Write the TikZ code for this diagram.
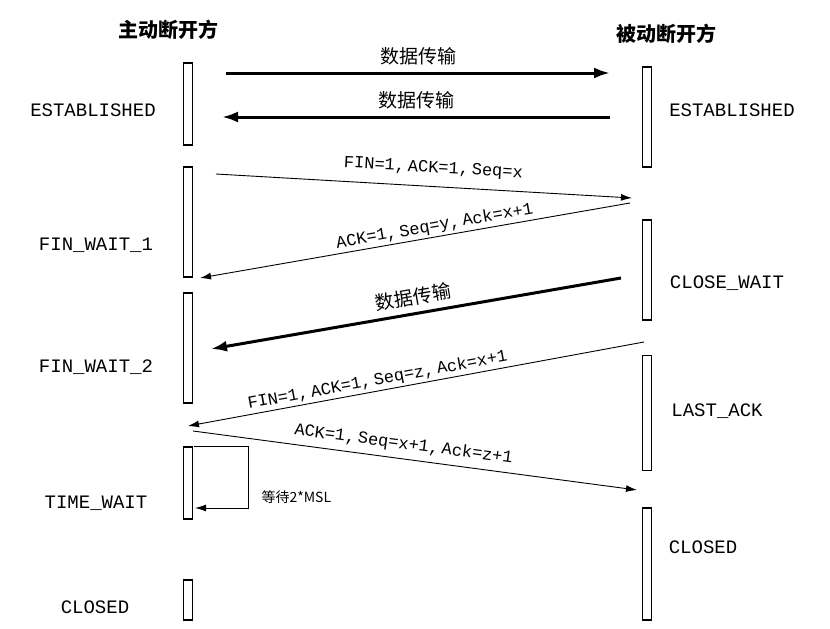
\documentclass[tikz,border=0pt]{standalone}
\usepackage{fontspec}
\setmainfont{Liberation Serif}
\newfontfamily\cjk{Noto Sans CJK SC}
\newfontfamily\mono{Liberation Mono}
\usetikzlibrary{arrows.meta}
\begin{document}
\begin{tikzpicture}[x=1pt,y=-1pt,
  bar/.style={draw,line width=1.1pt,minimum width=9pt,inner sep=0pt},
  st/.style={font=\mono\fontsize{19}{19}\selectfont},
  lab/.style={font=\mono\fontsize{17}{17}\selectfont,sloped,above,inner sep=2pt},
  thick arr/.style={line width=3pt,-{Latex[length=16pt,width=11pt]}},
  thin arr/.style={line width=0.9pt,-{Latex[length=11pt,width=7pt]}},
  cn/.style={font=\cjk\fontsize{19}{19}\selectfont}]
\useasboundingbox (0,0) rectangle (830,629);
\fill[white] (0,0) rectangle (830,629);
% bars
\node[bar,minimum height=82pt] (l1) at (188,104) {};
\node[bar,minimum height=110pt] (l2) at (188,222) {};
\node[bar,minimum height=110pt] (l3) at (188,348) {};
\node[bar,minimum height=72pt] (l4) at (188,483) {};
\node[bar,minimum height=40pt] (l5) at (188,600) {};
\node[bar,minimum height=100pt] (r1) at (647,117) {};
\node[bar,minimum height=100pt] (r2) at (647,270) {};
\node[bar,minimum height=115pt] (r3) at (647,413) {};
\node[bar,minimum height=112pt] (r4) at (647,564) {};
% titles
\node[font=\cjk\bfseries\fontsize{20}{20}\selectfont] (tl) at (168,30) {主动断开方};
\node[font=\cjk\bfseries\fontsize{20}{20}\selectfont] (tr) at (666,34) {被动断开方};
% states
\node[st] (s1) at (93,110) {ESTABLISHED};
\node[st] (s2) at (96,245) {FIN\_WAIT\_1};
\node[st] (s3) at (96,367) {FIN\_WAIT\_2};
\node[st] (s4) at (96,503) {TIME\_WAIT};
\node[st] (s5) at (95,607) {CLOSED};
\node[st] (s6) at (732,110) {ESTABLISHED};
\node[st] (s7) at (727,283) {CLOSE\_WAIT};
\node[st] (s8) at (717,411) {LAST\_ACK};
\node[st] (s9) at (703,547) {CLOSED};
% coordinates
\coordinate (a1) at (226,73); \coordinate (b1) at (610,73);
\coordinate (a2) at (610,117); \coordinate (b2) at (222,117);
\coordinate (a3) at (216,174); \coordinate (b3) at (632,198);
\coordinate (a4) at (630,203); \coordinate (b4) at (200,278);
\coordinate (a5) at (621,278); \coordinate (b5) at (211,349);
\coordinate (a6) at (644,342); \coordinate (b6) at (188,426);
\coordinate (a7) at (193,431); \coordinate (b7) at (637,490);
\draw[thick arr] (a1) -- node[cn,above=3pt] {数据传输} (b1);
\draw[thick arr] (a2) -- node[cn,above=3pt] {数据传输} (b2);
\draw[thin arr] (a3) -- node[lab,pos=0.52,yshift=8pt] {FIN=1,\,ACK=1,\,Seq=x} (b3);
\draw[thin arr] (a4) -- node[lab,pos=0.45] {ACK=1,\,Seq=y,\,Ack=x+1} (b4);
\draw[thick arr] (a5) -- node[cn,sloped,above=3pt] {数据传输} (b5);
\draw[thin arr] (a6) -- node[lab,pos=0.58] {FIN=1,\,ACK=1,\,Seq=z,\,Ack=x+1} (b6);
\draw[thin arr] (a7) -- node[lab,pos=0.47,yshift=4pt] {ACK=1,\,Seq=x+1,\,Ack=z+1} (b7);
% 2MSL loop
\coordinate (m1) at (194,446); \coordinate (m2) at (248,446);
\coordinate (m3) at (248,508); \coordinate (m4) at (195,508);
\draw[thin arr] (m1) -- (m2) -- (m3) -- (m4);
\node[font=\cjk\fontsize{14}{14}\selectfont,anchor=west] (w) at (258,497) {等待2*MSL};
\end{tikzpicture}
\end{document}
